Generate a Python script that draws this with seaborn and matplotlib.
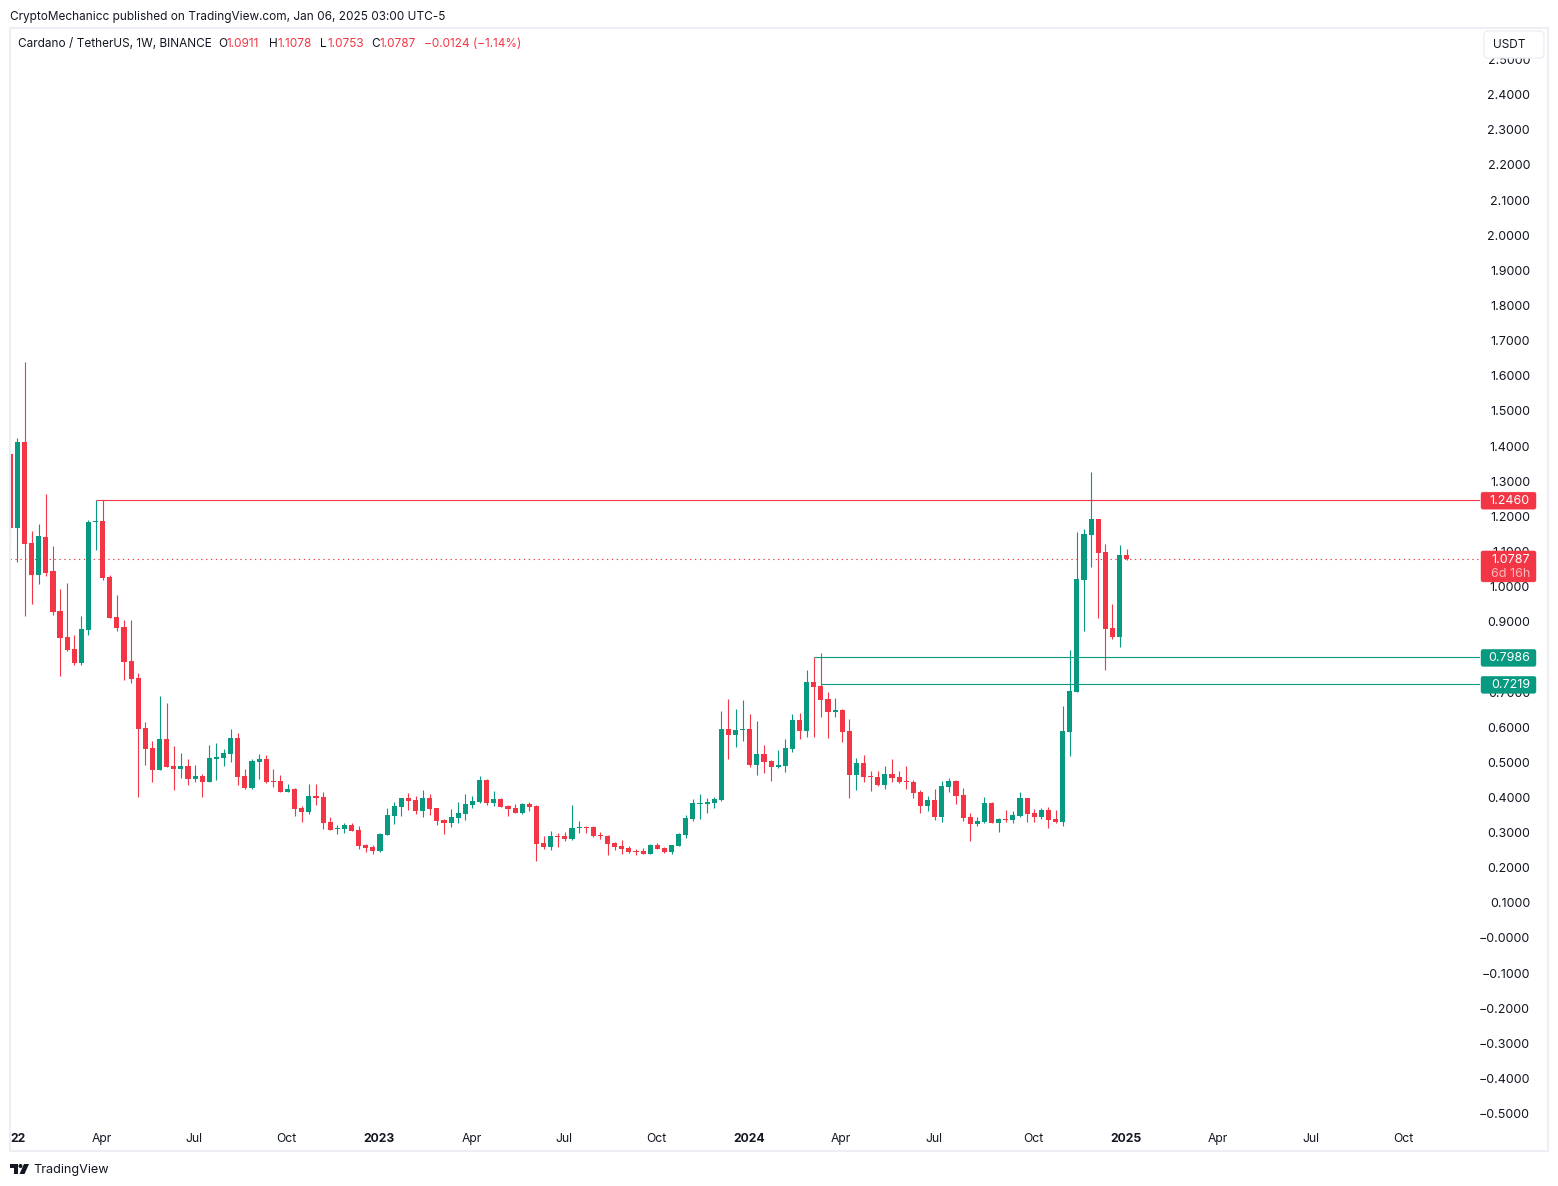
#!/usr/bin/env python3
"""
Cardano / TetherUS weekly candles, TradingView look
"""
import numpy as np
import pandas as pd
import matplotlib
matplotlib.use("Agg")
import matplotlib.pyplot as plt
from matplotlib.patches import FancyBboxPatch, Rectangle, Polygon, Circle
from matplotlib.transforms import Affine2D, ScaledTranslation
import seaborn as sns

W, H = 1558, 1186
GREEN = "#089981"
RED = "#F23645"
INK = "#131722"
BORDER = "#EEEEF4"

opens = [1.377, 1.168, 1.411, 1.124, 1.034, 1.141, 1.044, .931, .857, .822,
         .784, .877, 1.184, 1.187, 1.027, .913, .885, .788, .740, .598,
         .541, .478, .566, .489, .481, .489, .453, .461, .444, .509,
         .512, .524, .569, .461, .427, .501, .509, .447, .447, .415,
         .424, .370, .359, .404, .401, .330, .310, .310, .322, .307,
         .265, .259, .248, .293, .347, .373, .398, .393, .361, .398,
         .370, .336, .327, .341, .353, .378, .387, .450, .384, .396,
         .376, .370, .356, .381, .376, .270, .259, .290, .290, .282,
         .313, .316, .316, .293, .290, .270, .262, .256, .248, .248,
         .239, .265, .256, .245, .262, .293, .339, .381, .381, .384,
         .393, .595, .578, .592, .595, .492, .524, .504, .487, .489,
         .538, .620, .589, .729, .717, .680, .643, .649, .589, .464,
         .498, .461, .458, .435, .467, .458, .447, .444, .415, .376,
         .393, .344, .430, .447, .407, .344, .324, .330, .384, .327,
         .339, .336, .347, .398, .356, .344, .364, .339, .330, .586,
         .700, 1.019, 1.147, 1.192, 1.098, .882, .857, 1.0911]
highs = [1.377, 1.423, 1.639, 1.157, 1.178, 1.264, 1.116, .993, 1.010, .862,
         .916, 1.190, 1.246, 1.246, 1.033, .976, .905, .905, .754, .615,
         .561, .689, .669, .546, .526, .509, .492, .467, .549, .555,
         .538, .595, .583, .481, .509, .524, .521, .481, .464, .438,
         .427, .376, .438, .438, .415, .344, .322, .327, .327, .319,
         .267, .265, .299, .370, .387, .398, .413, .404, .421, .410,
         .370, .339, .367, .387, .410, .404, .461, .452, .418, .398,
         .378, .381, .384, .387, .378, .290, .304, .299, .302, .378,
         .333, .319, .319, .302, .293, .273, .279, .262, .253, .256,
         .267, .270, .259, .265, .299, .350, .396, .410, .398, .401,
         .646, .680, .652, .677, .637, .618, .549, .507, .535, .566,
         .637, .640, .763, .800, .811, .700, .683, .652, .623, .512,
         .521, .475, .475, .489, .509, .475, .489, .450, .421, .404,
         .424, .447, .455, .450, .427, .356, .344, .401, .387, .341,
         .364, .361, .415, .398, .367, .370, .373, .364, .660, .820,
         1.155, 1.164, 1.326, 1.192, 1.121, .950, 1.118, 1.1078]
lows = [1.125, 1.071, .917, .951, 1.008, 1.031, .920, .747, .817, .778,
        .778, .862, 1.104, 1.019, .912, .874, .734, .726, .401, .492,
        .444, .478, .487, .421, .455, .435, .444, .401, .444, .450,
        .489, .501, .435, .424, .424, .452, .441, .430, .415, .415,
        .347, .330, .353, .378, .310, .307, .296, .299, .304, .253,
        .245, .239, .245, .293, .324, .347, .364, .353, .344, .350,
        .322, .296, .316, .327, .336, .370, .384, .378, .376, .373,
        .347, .356, .353, .361, .219, .253, .250, .259, .276, .279,
        .299, .299, .287, .282, .236, .250, .239, .242, .236, .239,
        .239, .253, .242, .239, .262, .285, .333, .339, .356, .370,
        .390, .509, .544, .561, .487, .464, .470, .447, .484, .472,
        .529, .566, .572, .572, .629, .569, .629, .558, .398, .421,
        .444, .418, .433, .424, .444, .441, .424, .398, .356, .361,
        .336, .330, .415, .381, .333, .276, .319, .327, .327, .302,
        .330, .327, .344, .330, .330, .339, .313, .327, .319, .518,
        .700, .874, 1.056, .911, .763, .851, .828, 1.0753]
closes = [1.168, 1.411, 1.122, 1.034, 1.144, 1.040, .929, .855, .821, .784,
          .879, 1.184, 1.187, 1.024, .912, .882, .785, .737, .595, .538,
          .478, .566, .487, .481, .489, .453, .461, .444, .512, .515,
          .526, .569, .458, .427, .504, .509, .444, .444, .415, .424,
          .367, .359, .404, .398, .327, .307, .313, .322, .304, .262,
          .256, .248, .296, .350, .376, .398, .390, .361, .398, .367,
          .333, .327, .344, .356, .381, .390, .450, .384, .396, .373,
          .367, .356, .381, .373, .267, .259, .290, .287, .282, .313,
          .316, .313, .290, .290, .267, .259, .253, .245, .245, .239,
          .265, .253, .245, .265, .296, .341, .384, .384, .387, .396,
          .595, .578, .592, .595, .492, .524, .501, .487, .492, .541,
          .620, .589, .729, .714, .677, .643, .649, .586, .464, .498,
          .458, .458, .435, .467, .455, .444, .444, .413, .376, .393,
          .344, .433, .447, .404, .341, .324, .333, .384, .327, .339,
          .336, .350, .398, .353, .344, .364, .336, .330, .589, .703,
          1.022, 1.150, 1.192, 1.096, .879, .857, 1.090, 1.0787]

price_labels = ["2.5000", "2.4000", "2.3000", "2.2000", "2.1000", "2.0000", "1.9000",
                "1.8000", "1.7000", "1.6000", "1.5000", "1.4000", "1.3000", "1.2000",
                "1.1000", "1.0000", "0.9000", "0.8000", "0.7000", "0.6000", "0.5000",
                "0.4000", "0.3000", "0.2000", "0.1000", "−0.0000", "−0.1000", "−0.2000",
                "−0.3000", "−0.4000", "−0.5000"]
time_ticks = [0, 13, 26, 39, 52, 65, 78, 91, 104, 117, 130, 144, 157, 170, 183, 196]
time_labels = ["22", "Apr", "Jul", "Oct", "2023", "Apr", "Jul", "Oct", "2024", "Apr",
               "Jul", "Oct", "2025", "Apr", "Jul", "Oct"]

resistance = 1.2460
level_high = 0.7986
level_low = 0.7219
last_close = 1.0787
resistance_start = 12
level_high_start = 113
level_low_start = 114

df = pd.DataFrame({"idx": np.arange(len(opens)), "open": opens, "high": highs,
                   "low": lows, "close": closes})
df["up"] = df["close"] >= df["open"]
df["body_low"] = df[["open", "close"]].min(axis=1)
df["body"] = (df["open"] - df["close"]).abs()

sns.set_theme(style="white")
plt.rcParams["font.family"] = ["Inter", "DejaVu Sans"]
plt.rcParams["font.size"] = 9

fig = plt.figure(figsize=(W / 100, H / 100), dpi=100, facecolor="white")
# pixel coords from the top left corner, for the page furniture
page = Affine2D().scale(1 / W, -1 / H).translate(0, 1) + fig.transFigure

ax = fig.add_axes([10 / W, 1 - 1123 / H, 1470 / W, 1095 / H])

# wicks first, bodies over them
ax.vlines(df["idx"], df["low"], df["high"],
          colors=[GREEN if u else RED for u in df["up"]], linewidth=0.8, zorder=2)
for is_up, color in [(True, GREEN), (False, RED)]:
    part = df[df["up"] == is_up]
    sns.barplot(x=part["idx"].values, y=part["body"].values, bottom=part["body_low"].values,
                native_scale=True, orient="x", width=0.72, color=color, saturation=1,
                errorbar=None, linewidth=0, ax=ax, zorder=3)

ax.set_xlim(-0.04, 206.7)
ax.set_ylim((938 - 1123) / 351.4, (938 - 28) / 351.4)

xmax = ax.get_xlim()[1]
ax.hlines(resistance, resistance_start, xmax, color=RED, linewidth=0.8, zorder=4)
ax.hlines(level_high, level_high_start, xmax, color=GREEN, linewidth=0.8, zorder=4)
ax.hlines(level_low, level_low_start, xmax, color=GREEN, linewidth=0.8, zorder=4)
ax.hlines(last_close, ax.get_xlim()[0], xmax, color=RED, linewidth=0.8,
          linestyles=[(0, (1.2, 3.2))], zorder=1)

# price scale
ax.yaxis.tick_right()
ax.set_yticks([float(s.replace("−", "-")) for s in price_labels])
ax.set_yticklabels(price_labels, ha="right", color=INK, fontsize=9)
ax.tick_params(axis="y", length=0, pad=36)

# time scale
ax.set_xticks(time_ticks)
ax.set_xticklabels(time_labels, color=INK, fontsize=8.75)
ax.tick_params(axis="x", length=0, pad=7)
ax.set_xlabel("")
nudge = ScaledTranslation(-1 / 100, 0, fig.dpi_scale_trans)
for label, text in zip(ax.get_xticklabels(), time_labels):
    if text in ("22", "2023", "2024", "2025"):
        label.set_fontweight("bold")
    if text == "22":
        label.set_ha("left")
    else:
        label.set_transform(label.get_transform() + nudge)

sns.despine(ax=ax, left=True, bottom=True, right=True, top=True)
ax.grid(False)
ax.set_facecolor("none")


def pin_label(price, color, lines, top_off=8, bottom_off=9):
    """Coloured price tag on the scale"""
    y_px = H - ax.transData.transform((0, price))[1]
    box = FancyBboxPatch((1481, y_px - top_off), 55, top_off + bottom_off,
                         boxstyle="round,pad=0,rounding_size=2", facecolor=color,
                         edgecolor=color, linewidth=0.3, transform=page, zorder=6)
    fig.add_artist(box)
    for offset, text, alpha in lines:
        fig.text(1530, y_px + offset, text, transform=page, ha="right", va="center",
                 color="white", alpha=alpha, fontsize=9, zorder=7)


pin_label(resistance, RED, [(1, "1.2460", 1)])
pin_label(last_close, RED, [(1.5, "1.0787", 1), (15, "6d 16h", 0.65)], 8, 23)
pin_label(level_high, GREEN, [(1, "0.7986", 1)])
pin_label(level_low, GREEN, [(1, "0.7219", 1)])

# frame around the chart
fig.add_artist(Rectangle((10, 28), 1538, 1123, transform=page, fill=False,
                         edgecolor=BORDER, linewidth=1.5, zorder=5))

# currency button covers the top price label
fig.add_artist(FancyBboxPatch((1484, 31), 60, 27, boxstyle="round,pad=0,rounding_size=4",
                              facecolor="white", edgecolor=BORDER, linewidth=1,
                              transform=page, zorder=6))
fig.text(1493, 45, "USDT", transform=page, va="center", color=INK, fontsize=8.5, zorder=7)

# header and legend
fig.text(10, 17, "CryptoMechanicc published on TradingView.com, Jan 06, 2025 03:00 UTC-5",
         transform=page, va="center", color=INK, fontsize=8.5)
legend_parts = [(18, "Cardano / TetherUS, 1W, BINANCE", INK),
                (218, "O", INK), (227, "1.0911", RED),
                (269, "H", INK), (278, "1.1078", RED),
                (320, "L", INK), (328, "1.0753", RED),
                (371, "C", INK), (380, "1.0787", RED),
                (424, "−0.0124 (−1.14%)", RED)]
for x_px, text, color in legend_parts:
    fig.text(x_px, 44, text, transform=page, va="center", color=color, fontsize=8.5)

# TradingView mark and name
fig.add_artist(Polygon([(10, 1164), (18, 1164), (18, 1174), (14, 1174), (14, 1168), (10, 1168)],
                       closed=True, transform=page, facecolor=INK, edgecolor="none"))
fig.add_artist(Circle((20.5, 1166), 2, transform=page, facecolor=INK, edgecolor="none"))
fig.add_artist(Polygon([(24, 1164), (29, 1164), (24.5, 1174), (19.5, 1174)],
                       closed=True, transform=page, facecolor=INK, edgecolor="none"))
fig.text(33, 1170, "TradingView", transform=page, va="center", color=INK, fontsize=9.1)

fig.savefig("out.png", dpi=100, facecolor="white")
